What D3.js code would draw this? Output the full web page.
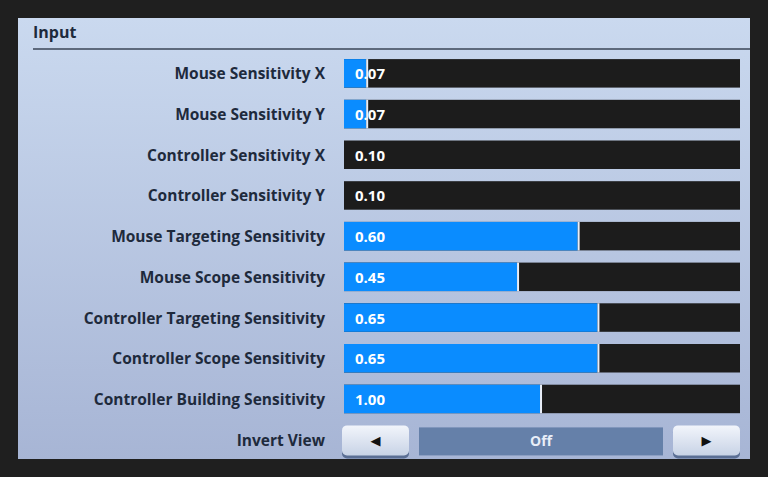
<!DOCTYPE html><html><head><meta charset="utf-8">
<script src="https://cdn.jsdelivr.net/npm/d3@7"></script>
<style>body{margin:0;background:#1f1f1f}svg{display:block}</style></head><body>
<script>
const labels=["Mouse Sensitivity X","Mouse Sensitivity Y","Controller Sensitivity X","Controller Sensitivity Y","Mouse Targeting Sensitivity","Mouse Scope Sensitivity","Controller Targeting Sensitivity","Controller Scope Sensitivity","Controller Building Sensitivity"];
const valueText=["0.07","0.07","0.10","0.10","0.60","0.45","0.65","0.65","1.00"];
const sliderPos=[0.056,0.056,0,0,0.59,0.437,0.64,0.64,0.495];
const invertLabel="Invert View", invertValue="Off";
const W=768,H=477;
const svg=d3.select("body").append("svg").attr("width",W).attr("height",H);
const defs=svg.append("defs");
const g1=defs.append("linearGradient").attr("id","bg").attr("x1",0).attr("y1",0).attr("x2",0).attr("y2",1);
g1.append("stop").attr("offset",0).attr("stop-color","#cad9ef");
g1.append("stop").attr("offset",1).attr("stop-color","#a7b5d5");
const g2=defs.append("linearGradient").attr("id","btn").attr("x1",0).attr("y1",0).attr("x2",0).attr("y2",1);
g2.append("stop").attr("offset",0).attr("stop-color","#f2f5fb");
g2.append("stop").attr("offset",1).attr("stop-color","#c8d3e6");
svg.append("rect").attr("width",W).attr("height",H).attr("fill","#1f1f1f");
svg.append("rect").attr("x",18).attr("y",18).attr("width",732).attr("height",441).attr("fill","url(#bg)");
svg.append("text").attr("x",33).attr("y",38).text("Input").attr("font-family","Open Sans").attr("font-weight",700).attr("font-size",16).attr("fill","#1e2a3c");
svg.append("line").attr("x1",33).attr("x2",750).attr("y1",49).attr("y2",49).attr("stroke","#3a4456").attr("stroke-width",1.5);
const y=d3.scaleBand().domain(labels.concat([invertLabel])).range([53,460]).paddingInner(0.3).paddingOuter(0.15);
const x=d3.scaleLinear().domain([0,1]).range([344,740]);
const rows=svg.selectAll("g.row").data(labels).join("g");
rows.append("text").attr("x",325).attr("y",d=>y(d)+y.bandwidth()/2+6).attr("text-anchor","end").text(d=>d)
 .attr("font-family","Open Sans").attr("font-weight",700).attr("font-size",15.5).attr("fill","#1e2a3c");
rows.append("rect").attr("x",x(0)).attr("y",d=>y(d)).attr("width",x(1)-x(0)).attr("height",y.bandwidth()).attr("fill","#1c1c1c");
rows.append("rect").attr("x",x(0)).attr("y",d=>y(d)).attr("width",(d,i)=>x(sliderPos[i])-x(0)).attr("height",y.bandwidth()).attr("fill","#0a8cff");
rows.filter((d,i)=>sliderPos[i]>0).append("rect").attr("x",(d,i)=>x(labels.indexOf(d)>=0?sliderPos[labels.indexOf(d)]:0)).attr("y",d=>y(d)).attr("width",2).attr("height",y.bandwidth()).attr("fill","#e8eef8");
rows.append("text").attr("x",355).attr("y",(d)=>y(d)+y.bandwidth()/2+6).text((d,i)=>valueText[i])
 .attr("font-family","Open Sans").attr("font-weight",700).attr("font-size",15).attr("fill","#fff");
const iy=y(invertLabel);
svg.append("text").attr("x",325).attr("y",iy+y.bandwidth()/2+6).attr("text-anchor","end").text(invertLabel)
 .attr("font-family","Open Sans").attr("font-weight",700).attr("font-size",15.5).attr("fill","#1e2a3c");
[[342,"◀"],[673,"▶"]].forEach(([bx,t])=>{
 svg.append("rect").attr("x",bx).attr("y",iy+2).attr("width",67).attr("height",31).attr("rx",5).attr("fill","#5a6e94");
 svg.append("rect").attr("x",bx).attr("y",iy).attr("width",67).attr("height",30).attr("rx",5).attr("fill","url(#btn)");
 svg.append("text").attr("x",bx+33.5).attr("y",iy+20).attr("text-anchor","middle").text(t).attr("font-size",13).attr("fill","#111").attr("font-family","DejaVu Sans");
});
svg.append("rect").attr("x",419).attr("y",iy+2).attr("width",244).attr("height",28).attr("fill","#6580a9");
svg.append("text").attr("x",541).attr("y",iy+21).attr("text-anchor","middle").text(invertValue)
 .attr("font-family","Open Sans").attr("font-weight",700).attr("font-size",14).attr("fill","#e8eef8");
</script></body></html>
